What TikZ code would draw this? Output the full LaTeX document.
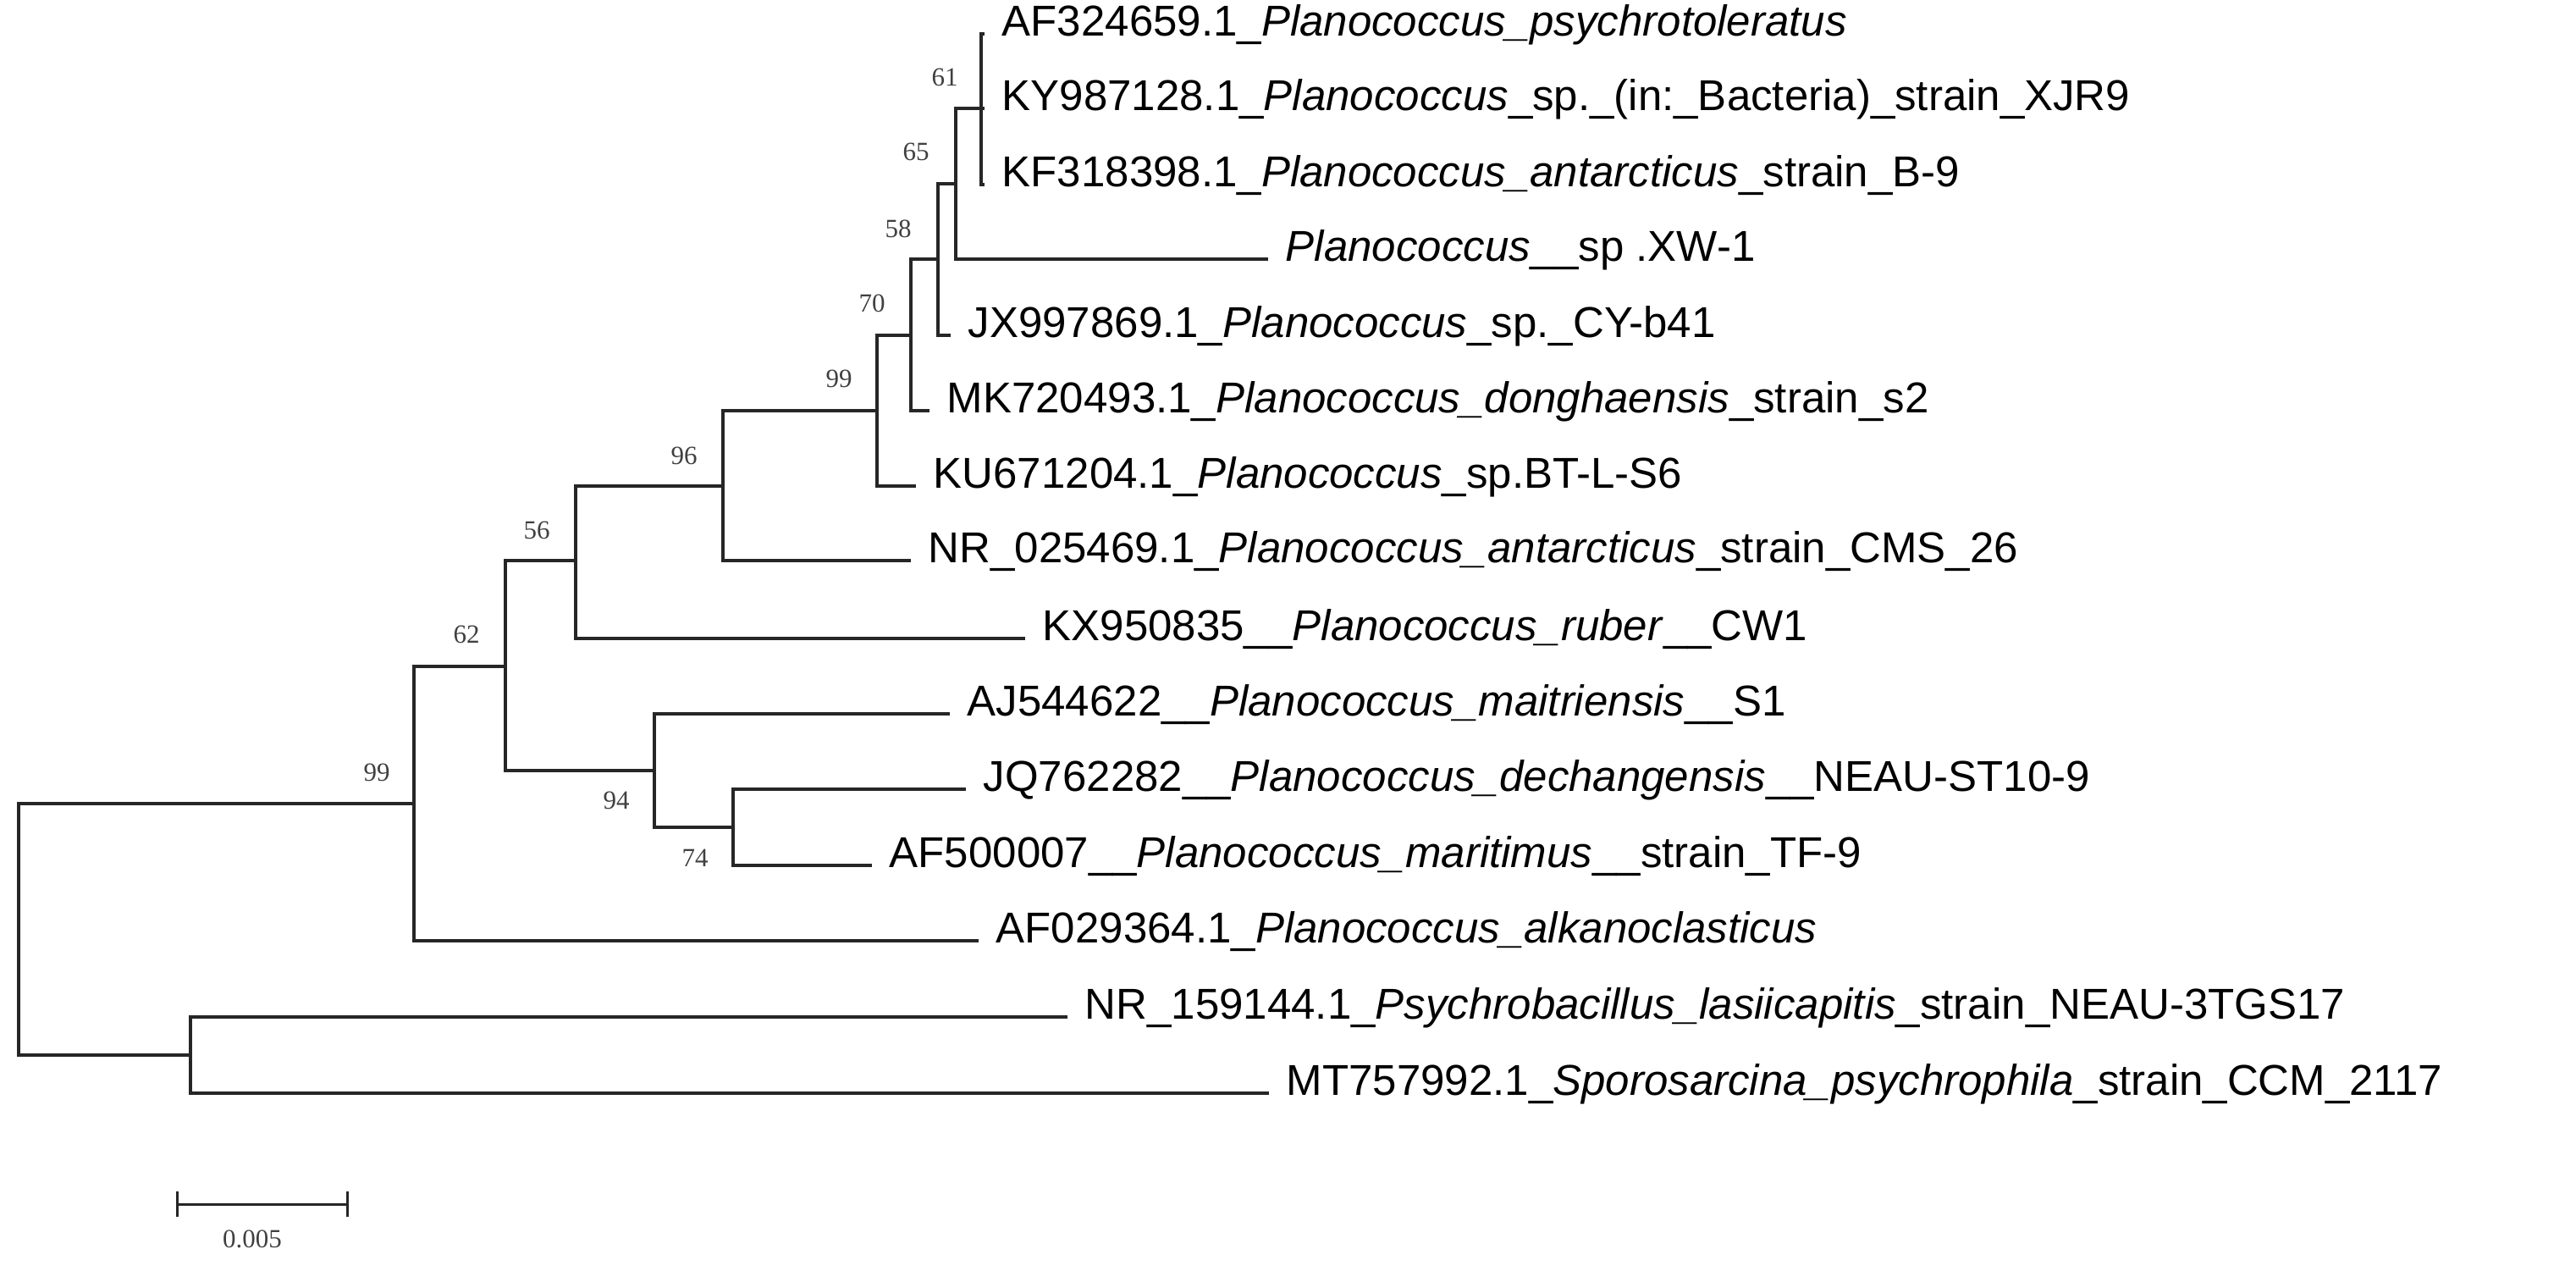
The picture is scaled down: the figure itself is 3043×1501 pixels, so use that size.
\documentclass[tikz,border=0pt]{standalone}
\usepackage{fontspec}
\setmainfont{Liberation Sans}
\newfontfamily\bsfont{Liberation Serif}
\begin{document}
\begin{tikzpicture}[x=1pt,y=-1pt,line width=3.5pt,
  br/.style={draw=black!85},
  lab/.style={anchor=mid west,inner sep=0pt,xshift=19pt,font=\fontsize{51}{60}\selectfont},
  bs/.style={inner sep=0pt,text=black!75,font=\bsfont\fontsize{31}{36}\selectfont}]
\useasboundingbox (0,0) rectangle (3043,1501);
% internal nodes
\coordinate (n61) at (1159,128);
\coordinate (n65) at (1129,217);
\coordinate (n58) at (1108,306);
\coordinate (n70) at (1076,396);
\coordinate (n99a) at (1036,485);
\coordinate (n96) at (854,574);
\coordinate (n56) at (680,662);
\coordinate (n62) at (597,787);
\coordinate (n94) at (773,910);
\coordinate (n74) at (866,977);
\coordinate (n99b) at (489,949);
\coordinate (root) at (22,1098);
\coordinate (nout) at (225,1246);
% leaves
\coordinate (l1) at (1163,40);
\coordinate (l2) at (1163,128);
\coordinate (l3) at (1163,218);
\coordinate (l4) at (1498,306);
\coordinate (l5) at (1123,396);
\coordinate (l6) at (1098,485);
\coordinate (l7) at (1082,574);
\coordinate (l8) at (1076,662);
\coordinate (l9) at (1211,754);
\coordinate (l10) at (1122,843);
\coordinate (l11) at (1141,932);
\coordinate (l12) at (1030,1022);
\coordinate (l13) at (1156,1111);
\coordinate (l14) at (1261,1201);
\coordinate (l15) at (1499,1291);
% branches
\draw[br] (n61) |- (l1); \draw[br] (n61) |- (l2); \draw[br] (n61) |- (l3);
\draw[br] (n65) |- (n61); \draw[br] (n65) |- (l4);
\draw[br] (n58) |- (n65); \draw[br] (n58) |- (l5);
\draw[br] (n70) |- (n58); \draw[br] (n70) |- (l6);
\draw[br] (n99a) |- (n70); \draw[br] (n99a) |- (l7);
\draw[br] (n96) |- (n99a); \draw[br] (n96) |- (l8);
\draw[br] (n56) |- (n96); \draw[br] (n56) |- (l9);
\draw[br] (n74) |- (l11); \draw[br] (n74) |- (l12);
\draw[br] (n94) |- (l10); \draw[br] (n94) |- (n74);
\draw[br] (n62) |- (n56); \draw[br] (n62) |- (n94);
\draw[br] (n99b) |- (n62); \draw[br] (n99b) |- (l13);
\draw[br] (nout) |- (l14); \draw[br] (nout) |- (l15);
\draw[br] (root) |- (n99b); \draw[br] (root) |- (nout);
% labels
\node[lab] (t1) at (l1) {AF324659.1\_\textit{Planococcus\_psychrotoleratus}};
\node[lab] (t2) at (l2) {KY987128.1\_\textit{Planococcus}\_sp.\_(in:\_Bacteria)\_strain\_XJR9};
\node[lab] (t3) at (l3) {KF318398.1\_\textit{Planococcus\_antarcticus}\_strain\_B-9};
\node[lab] (t4) at (l4) {\textit{Planococcus}\_\_sp .XW-1};
\node[lab] (t5) at (l5) {JX997869.1\_\textit{Planococcus}\_sp.\_CY-b41};
\node[lab] (t6) at (l6) {MK720493.1\_\textit{Planococcus\_donghaensis}\_strain\_s2};
\node[lab] (t7) at (l7) {KU671204.1\_\textit{Planococcus}\_sp.BT-L-S6};
\node[lab] (t8) at (l8) {NR\_025469.1\_\textit{Planococcus\_antarcticus}\_strain\_CMS\_26};
\node[lab] (t9) at (l9) {KX950835\_\_\textit{Planococcus\_ruber}\_\_CW1};
\node[lab] (t10) at (l10) {AJ544622\_\_\textit{Planococcus\_maitriensis}\_\_S1};
\node[lab] (t11) at (l11) {JQ762282\_\_\textit{Planococcus\_dechangensis}\_\_NEAU-ST10-9};
\node[lab] (t12) at (l12) {AF500007\_\_\textit{Planococcus\_maritimus}\_\_strain\_TF-9};
\node[lab] (t13) at (l13) {AF029364.1\_\textit{Planococcus\_alkanoclasticus}};
\node[lab] (t14) at (l14) {NR\_159144.1\_\textit{Psychrobacillus\_lasiicapitis}\_strain\_NEAU-3TGS17};
\node[lab] (t15) at (l15) {MT757992.1\_\textit{Sporosarcina\_psychrophila}\_strain\_CCM\_2117};
% bootstrap values
\node[bs] (b61) at (1116,91) {61};
\node[bs] (b65) at (1082,179) {65};
\node[bs] (b58) at (1061,270) {58};
\node[bs] (b70) at (1030,358) {70};
\node[bs] (b99a) at (991,447) {99};
\node[bs] (b96) at (808,538) {96};
\node[bs] (b56) at (634,626) {56};
\node[bs] (b62) at (551,749) {62};
\node[bs] (b99b) at (445,912) {99};
\node[bs] (b94) at (728,945) {94};
\node[bs] (b74) at (821,1013) {74};
% scale bar
\coordinate (s1) at (209,1422);
\coordinate (s2) at (410,1422);
\draw[br,line width=3pt] (s1) -- (s2);
\draw[br,line width=3pt] ([yshift=-15pt]s1) -- ([yshift=15pt]s1);
\draw[br,line width=3pt] ([yshift=-15pt]s2) -- ([yshift=15pt]s2);
\node[bs] (sl) at (298,1463) {0.005};
\end{tikzpicture}
\end{document}
